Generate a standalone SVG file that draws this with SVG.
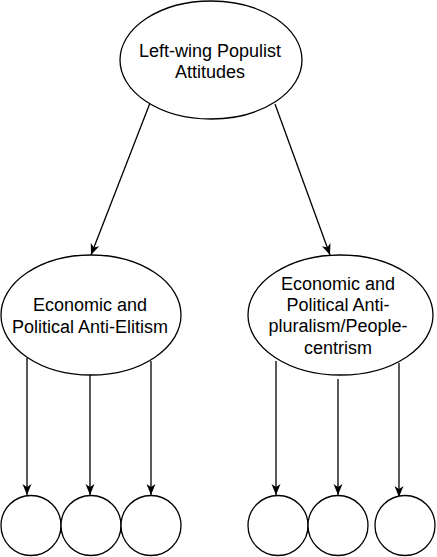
<svg xmlns="http://www.w3.org/2000/svg" width="437" height="557" viewBox="0 0 437 557">
<style>
.n{fill:#fff;stroke:#000;stroke-width:1.3}
.t{font-family:"Liberation Sans",Arial,sans-serif;font-size:18px;fill:#000;text-anchor:middle}
.e{fill:none;stroke:#000;stroke-width:1.3;marker-end:url(#ah)}
</style>
<defs>
<marker id="ah" viewBox="0 0 11 10" refX="11" refY="5" markerWidth="11" markerHeight="10" markerUnits="userSpaceOnUse" orient="auto">
<path d="M0,0.5 L11,5 L0,9.5 L3,5 Z" fill="#000"/>
</marker>
</defs>
<rect width="437" height="557" fill="#fff"/>
<g id="connectors">
<line class="e" x1="150" y1="103" x2="91" y2="255"/>
<line class="e" x1="275" y1="104" x2="330" y2="255"/>
<line class="e" x1="27" y1="358" x2="27" y2="495"/>
<line class="e" x1="90" y1="375" x2="90" y2="495"/>
<line class="e" x1="151" y1="361" x2="151" y2="495"/>
<line class="e" x1="276" y1="361" x2="276" y2="495"/>
<line class="e" x1="338" y1="379" x2="338" y2="495"/>
<line class="e" x1="399" y1="363" x2="399" y2="497"/>
</g>
<g id="root">
<ellipse class="n" cx="211" cy="60" rx="91" ry="59"/>
<text class="t" x="210" y="56.5">Left-wing Populist</text>
<text class="t" x="210" y="78">Attitudes</text>
</g>
<g id="elitism">
<ellipse class="n" cx="91" cy="315" rx="90" ry="60"/>
<text class="t" x="90" y="310.5">Economic and</text>
<text class="t" x="90" y="332.5">Political Anti-Elitism</text>
</g>
<g id="pluralism">
<ellipse class="n" cx="340.5" cy="315" rx="92.5" ry="60"/>
<text class="t" x="338" y="290">Economic and</text>
<text class="t" x="338" y="311.2">Political Anti-</text>
<text class="t" x="338" y="332.4">pluralism/People-</text>
<text class="t" x="338" y="353.6">centrism</text>
</g>
<g id="c1"><circle class="n" cx="31" cy="525.5" r="30"/></g>
<g id="c2"><circle class="n" cx="91" cy="525.5" r="30"/></g>
<g id="c3"><circle class="n" cx="151" cy="525.5" r="30"/></g>
<g id="c4"><circle class="n" cx="278" cy="525.5" r="30"/></g>
<g id="c5"><circle class="n" cx="338" cy="525.5" r="30"/></g>
<g id="c6"><circle class="n" cx="405" cy="525.5" r="30"/></g>
</svg>
